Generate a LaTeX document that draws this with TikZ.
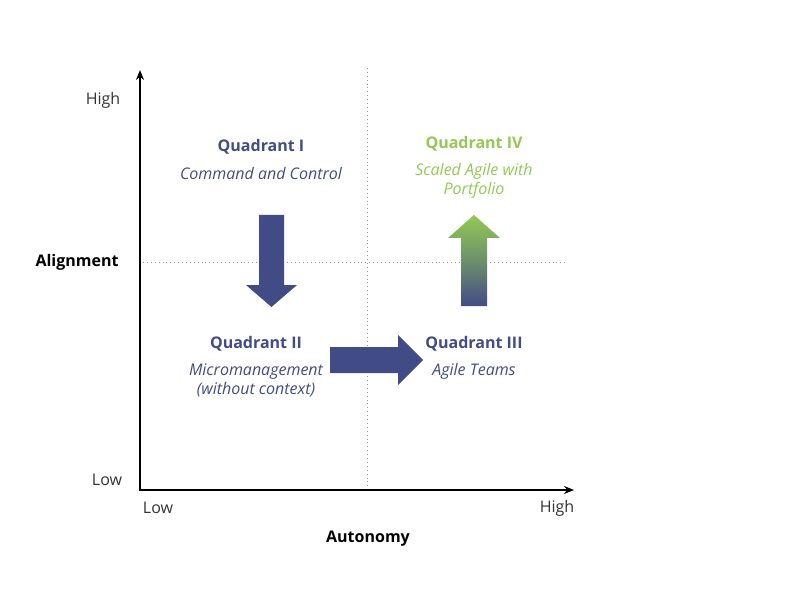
\documentclass[tikz,border=0pt]{standalone}
\usepackage{fontspec}
\setmainfont{Open Sans}
\usetikzlibrary{arrows.meta}
\definecolor{azul}{HTML}{414B86}
\definecolor{verde}{HTML}{92C954}
\definecolor{gris}{HTML}{333333}
\begin{document}
\begin{tikzpicture}[x=1pt,y=-1pt,
    etiqueta/.style={font=\fontsize{16}{19}\selectfont, text=gris},
    eje/.style={font=\fontsize{16}{19}\selectfont\bfseries, text=black},
    titulo/.style={font=\fontsize{16}{19}\selectfont\bfseries, text=azul},
    descr/.style={font=\fontsize{16}{19}\selectfont\itshape, text=azul, align=center},
    guia/.style={gris!50, line width=0.9pt, dash pattern=on 0.9pt off 3pt}]
  \useasboundingbox (0,0) rectangle (792,612);
  % Lineas guia
  \draw[guia] (367,68) -- (367,488);
  \draw[guia] (143,262) -- (566,262);
  % Ejes
  \coordinate (O) at (140,490);
  \coordinate (ytop) at (140,70);
  \coordinate (xend) at (574,490);
  \draw[line width=2.6pt, -{Stealth[length=10pt,width=8pt]}] ([yshift=1.3pt]O) -- (ytop);
  \draw[line width=2.6pt, -{Stealth[length=10pt,width=8pt]}] ([xshift=-1.3pt]O) -- (xend);
  \node[etiqueta] (yhigh) at (103,100) {High};
  \node[etiqueta] (ylow) at (107,480) {Low};
  \node[eje] (alin) at (77,262) {Alignment};
  \node[etiqueta] (xlow) at (158,508) {Low};
  \node[etiqueta] (xhigh) at (557,508) {High};
  \node[eje] (auton) at (368,539) {Autonomy};
  % Cuadrantes
  \node[titulo] (q1) at (261,147) {Quadrant I};
  \node[descr] (q1d) at (261,174) {Command and Control};
  \node[titulo] (q2) at (256,344) {Quadrant II};
  \node[descr] (q2d) at (256,380.5) {Micromanagement\\(without context)};
  \node[titulo] (q3) at (474,344) {Quadrant III};
  \node[descr] (q3d) at (474,371) {Agile Teams};
  \node[titulo, text=verde] (q4) at (474,144) {Quadrant IV};
  \node[descr, text=verde] (q4d) at (474,180.5) {Scaled Agile with\\Portfolio};
  % Flechas
  \fill[azul] (259,215) -- (284,215) -- (284,285) -- (297,285) -- (271.5,307)
    -- (246,285) -- (259,285) -- cycle;
  \fill[azul] (330,347) -- (398,347) -- (398,335) -- (423,360) -- (398,385)
    -- (398,373) -- (330,373) -- cycle;
  \shade[top color=verde, bottom color=azul, middle color=verde!55!azul]
    (461,306) -- (461,238) -- (448,238) -- (474,215) -- (500,238) -- (487,238)
    -- (487,306) -- cycle;
\end{tikzpicture}
\end{document}
